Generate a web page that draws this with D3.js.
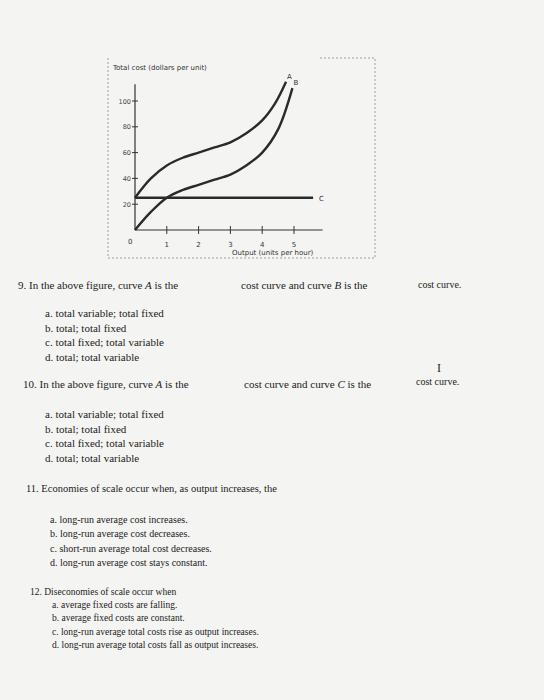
<!DOCTYPE html>
<html><head><meta charset="utf-8">
<script src="https://cdn.jsdelivr.net/npm/d3@7"></script>
<style>body{margin:0;background:#f4f4f2}</style></head>
<body><div id="chart"></div>
<script>
// curve data
const xsA = [0, 0.5, 1, 1.5, 2, 2.5, 3, 3.5, 4, 4.4, 4.75];
const valsA = [25, 40, 50, 56, 60, 64, 68, 75, 85, 98, 115];
const xsB = [0, 0.5, 1, 1.5, 2, 2.5, 3, 3.5, 4, 4.5, 4.95];
const valsB = [0, 14, 25, 31, 35, 39, 43, 50, 60, 78, 110];
const xsC = [0, 5.6];
const valsC = [25, 25];
const xTicks = [1, 2, 3, 4, 5];
const yTicks = [20, 40, 60, 80, 100];

const questions = [
  {num: "9.", y: 289, a: "In the above figure, curve ", it: "A", b: " is the", c: "cost curve and curve ", it2: "B", d: " is the", e: "cost curve.",
   opts: ["a.  total variable; total fixed", "b.  total; total fixed", "c.  total fixed; total variable", "d.  total; total variable"], oy: 317, ox: 45, step: 14.5},
  {num: "10.", y: 388, a: "In the above figure, curve ", it: "A", b: " is the", c: "cost curve and curve ", it2: "C", d: " is the", e: "cost curve.",
   opts: ["a.  total variable; total fixed", "b.  total; total fixed", "c.  total fixed; total variable", "d.  total; total variable"], oy: 418, ox: 45, step: 14.5}
];

const svg = d3.select("#chart").append("svg").attr("width", 544).attr("height", 700)
  .style("font-family", "Liberation Serif");
svg.append("rect").attr("width", 544).attr("height", 700).attr("fill", "#f4f4f2");

// dashed frame around figure
svg.append("path").attr("d", "M108,58 V258 H375 V58 H318").attr("fill", "none")
  .attr("stroke", "#888").attr("stroke-dasharray", "2,2").attr("stroke-width", 0.8);

const x = d3.scaleLinear().domain([0, 5]).range([135, 294]);
const y = d3.scaleLinear().domain([0, 100]).range([230, 101]);
const g = svg.append("g").attr("font-family", "DejaVu Sans");

g.append("line").attr("x1", x(0)).attr("x2", x(5.9)).attr("y1", y(0)).attr("y2", y(0)).attr("stroke", "#333").attr("stroke-width", 1.2);
g.append("line").attr("x1", x(0)).attr("x2", x(0)).attr("y1", y(0)).attr("y2", y(113)).attr("stroke", "#333").attr("stroke-width", 1.2);
xTicks.forEach(t => {
  g.append("line").attr("x1", x(t)).attr("x2", x(t)).attr("y1", y(0) - 4).attr("y2", y(0) + 4).attr("stroke", "#333");
  g.append("text").attr("x", x(t)).attr("y", y(0) + 17).attr("text-anchor", "middle").attr("font-size", 7).attr("fill", "#333").text(t);
});
g.append("text").attr("x", x(-0.15)).attr("y", y(0) + 14).attr("text-anchor", "middle").attr("font-size", 7).attr("fill", "#333").text("0");
yTicks.forEach(t => {
  g.append("line").attr("x1", x(0) - 3).attr("x2", x(0) + 3).attr("y1", y(t)).attr("y2", y(t)).attr("stroke", "#333");
  g.append("text").attr("x", x(0) - 4).attr("y", y(t) + 2.5).attr("text-anchor", "end").attr("font-size", 6.5).attr("fill", "#444").text(t);
});
g.append("text").attr("x", 113).attr("y", 70).attr("font-size", 7).attr("fill", "#333").text("Total cost (dollars per unit)");
g.append("text").attr("x", 232).attr("y", 255).attr("font-size", 7).attr("fill", "#333").text("Output (units per hour)");

const line = d3.line().x(d => x(d[0])).y(d => y(d[1])).curve(d3.curveCatmullRom);
[[xsA, valsA, "A"], [xsB, valsB, "B"], [xsC, valsC, "C"]].forEach(([xs, vs, lab]) => {
  const pts = xs.map((v, i) => [v, vs[i]]);
  g.append("path").attr("d", line(pts)).attr("fill", "none").attr("stroke", "#2a2a2a").attr("stroke-width", 2.4);
  const last = pts[pts.length - 1];
  g.append("text").attr("x", x(last[0]) + (lab === "C" ? 6 : 1)).attr("y", y(last[1]) + (lab === "C" ? 3 : -3))
    .attr("font-size", 7).attr("fill", "#333").text(lab);
});

// question text
const txt = (xx, yy, s, size, italic) => svg.append("text").attr("x", xx).attr("y", yy)
  .attr("font-size", size || 11).attr("fill", "#222").attr("font-style", italic ? "italic" : null).text(s);
questions.forEach(q => {
  const t = svg.append("text").attr("x", q.num === "9." ? 18 : 23).attr("y", q.y).attr("font-size", 11).attr("fill", "#222");
  t.append("tspan").text(q.num + "  " + q.a);
  t.append("tspan").attr("font-style", "italic").text(q.it);
  t.append("tspan").text(q.b);
  const t2 = svg.append("text").attr("x", q.num === "9." ? 241 : 244).attr("y", q.y).attr("font-size", 11).attr("fill", "#222");
  t2.append("tspan").text(q.c);
  t2.append("tspan").attr("font-style", "italic").text(q.it2);
  t2.append("tspan").text(q.d);
  txt(q.num === "9." ? 418 : 416, q.y - (q.num === "9." ? 1 : 3), q.e, 10);
  q.opts.forEach((o, i) => txt(q.ox, q.oy + i * q.step, o, 11));
});
txt(437, 372, "I", 12);

txt(26, 492, "11.  Economies of scale occur when, as output increases, the", 10.5);
["a.  long-run average cost increases.", "b.  long-run average cost decreases.", "c.  short-run average total cost decreases.", "d.  long-run average cost stays constant."]
  .forEach((o, i) => txt(50, 523 + i * 14.3, o, 10));
txt(30, 595, "12.  Diseconomies of scale occur when", 9.5);
["a.  average fixed costs are falling.", "b.  average fixed costs are constant.", "c.  long-run average total costs rise as output increases.", "d.  long-run average total costs fall as output increases."]
  .forEach((o, i) => txt(52, 608 + i * 13.3, o, 9.5));
</script></body></html>
